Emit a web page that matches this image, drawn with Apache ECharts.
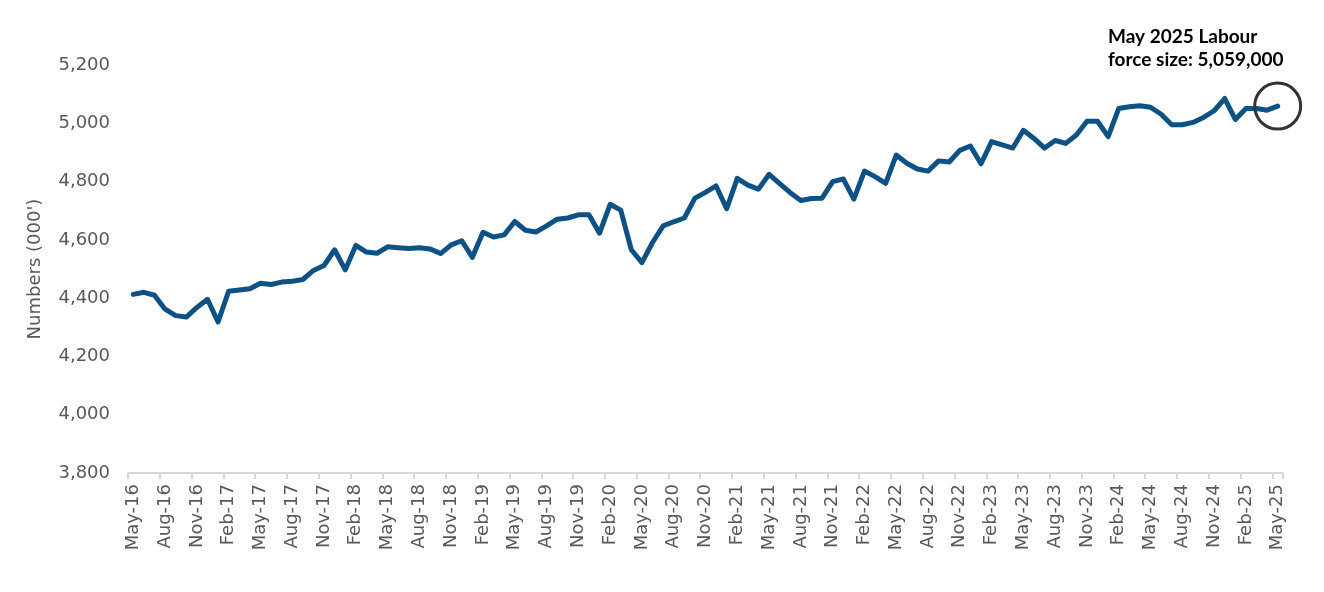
<!DOCTYPE html>
<html>
<head>
<meta charset="utf-8">
<script src="https://cdn.jsdelivr.net/npm/echarts@6/dist/echarts.min.js"></script>
<style>
  html, body { margin: 0; padding: 0; background: #fff; }
  #chart { width: 1324px; height: 592px; }
</style>
</head>
<body>
<div id="chart"></div>
<script>
// monthly labour force, thousands, May-16 .. May-25
var monthNames = ['Jan','Feb','Mar','Apr','May','Jun','Jul','Aug','Sep','Oct','Nov','Dec'];
var firstMonth = 4, firstYear = 16, monthCount = 109;

var labourForce = [
  4413, 4420, 4410, 4362, 4340, 4335, 4368, 4396,
  4318, 4424, 4428, 4432, 4451, 4447, 4455, 4458, 4464, 4495, 4512, 4566,
  4497, 4581, 4558, 4554, 4576, 4573, 4570, 4573, 4569, 4553, 4583, 4597,
  4540, 4626, 4610, 4617, 4663, 4633, 4627, 4648, 4671, 4675, 4686, 4686,
  4623, 4722, 4702, 4566, 4522, 4591, 4648, 4662, 4675, 4743, 4763, 4785,
  4707, 4811, 4788, 4774, 4825, 4793, 4762, 4735, 4742, 4743, 4800, 4809,
  4740, 4836, 4817, 4794, 4891, 4863, 4843, 4836, 4871, 4867, 4907, 4922,
  4861, 4937, 4926, 4915, 4976, 4948, 4915, 4941, 4931, 4960, 5007, 5007,
  4954, 5051, 5057, 5060, 5055, 5031, 4995, 4995, 5003, 5020, 5043, 5085,
  5013, 5051, 5051, 5045, 5059
];

var yMin = 3800, yMax = 5200, yStep = 200;

var categories = [];
for (var i = 0; i < monthCount; i++) {
  var m = (firstMonth + i) % 12;
  var y = firstYear + Math.floor((firstMonth + i) / 12);
  categories.push(monthNames[m] + '-' + y);
}

var lastIdx = labourForce.length - 1;
var lastLabel = 'May 20' + (firstYear + Math.floor((firstMonth + lastIdx) / 12)) + ' Labour\nforce size: ' +
  (labourForce[lastIdx] * 1000).toLocaleString('en-US');

var axisFont = 'DejaVu Sans';

var myChart = echarts.init(document.getElementById('chart'));
myChart.setOption({
  animation: false,
  grid: { left: 128, right: 41, top: 65, bottom: 119, containLabel: false },
  xAxis: {
    type: 'category',
    data: categories,
    boundaryGap: true,
    axisLine: { lineStyle: { color: '#d9d9d9', width: 2 } },
    axisTick: { show: true, interval: 2, length: 6, lineStyle: { color: '#d9d9d9', width: 2 } },
    axisLabel: {
      interval: 2,
      rotate: 90,
      margin: 11,
      color: '#595959',
      fontFamily: axisFont,
      fontSize: 18
    },
    splitLine: { show: false }
  },
  yAxis: {
    type: 'value',
    min: yMin,
    max: yMax,
    interval: yStep,
    name: "Numbers (000')",
    nameLocation: 'middle',
    nameGap: 84,
    nameTextStyle: { color: '#595959', fontFamily: axisFont, fontSize: 18 },
    axisLine: { show: false },
    axisTick: { show: false },
    splitLine: { show: false },
    axisLabel: {
      margin: 18,
      color: '#595959',
      fontFamily: axisFont,
      fontSize: 18,
      formatter: function (v) { return v.toLocaleString('en-US'); }
    }
  },
  series: [{
    type: 'line',
    data: labourForce,
    symbol: 'none',
    lineStyle: { color: '#0e5185', width: 5, join: 'round', cap: 'round' },
    itemStyle: { color: '#0e5185' },
    markPoint: {
      silent: true,
      symbol: 'circle',
      symbolSize: 46,
      itemStyle: { color: 'rgba(0,0,0,0)', borderColor: '#333333', borderWidth: 3 },
      label: { show: false },
      data: [{ coord: [categories[lastIdx], labourForce[lastIdx]] }]
    }
  }],
  graphic: [{
    type: 'text',
    left: 1108,
    top: 25,
    style: {
      text: lastLabel,
      fill: '#000',
      font: 'bold 19px Lato',
      lineHeight: 23
    }
  }]
});
</script>
</body>
</html>
